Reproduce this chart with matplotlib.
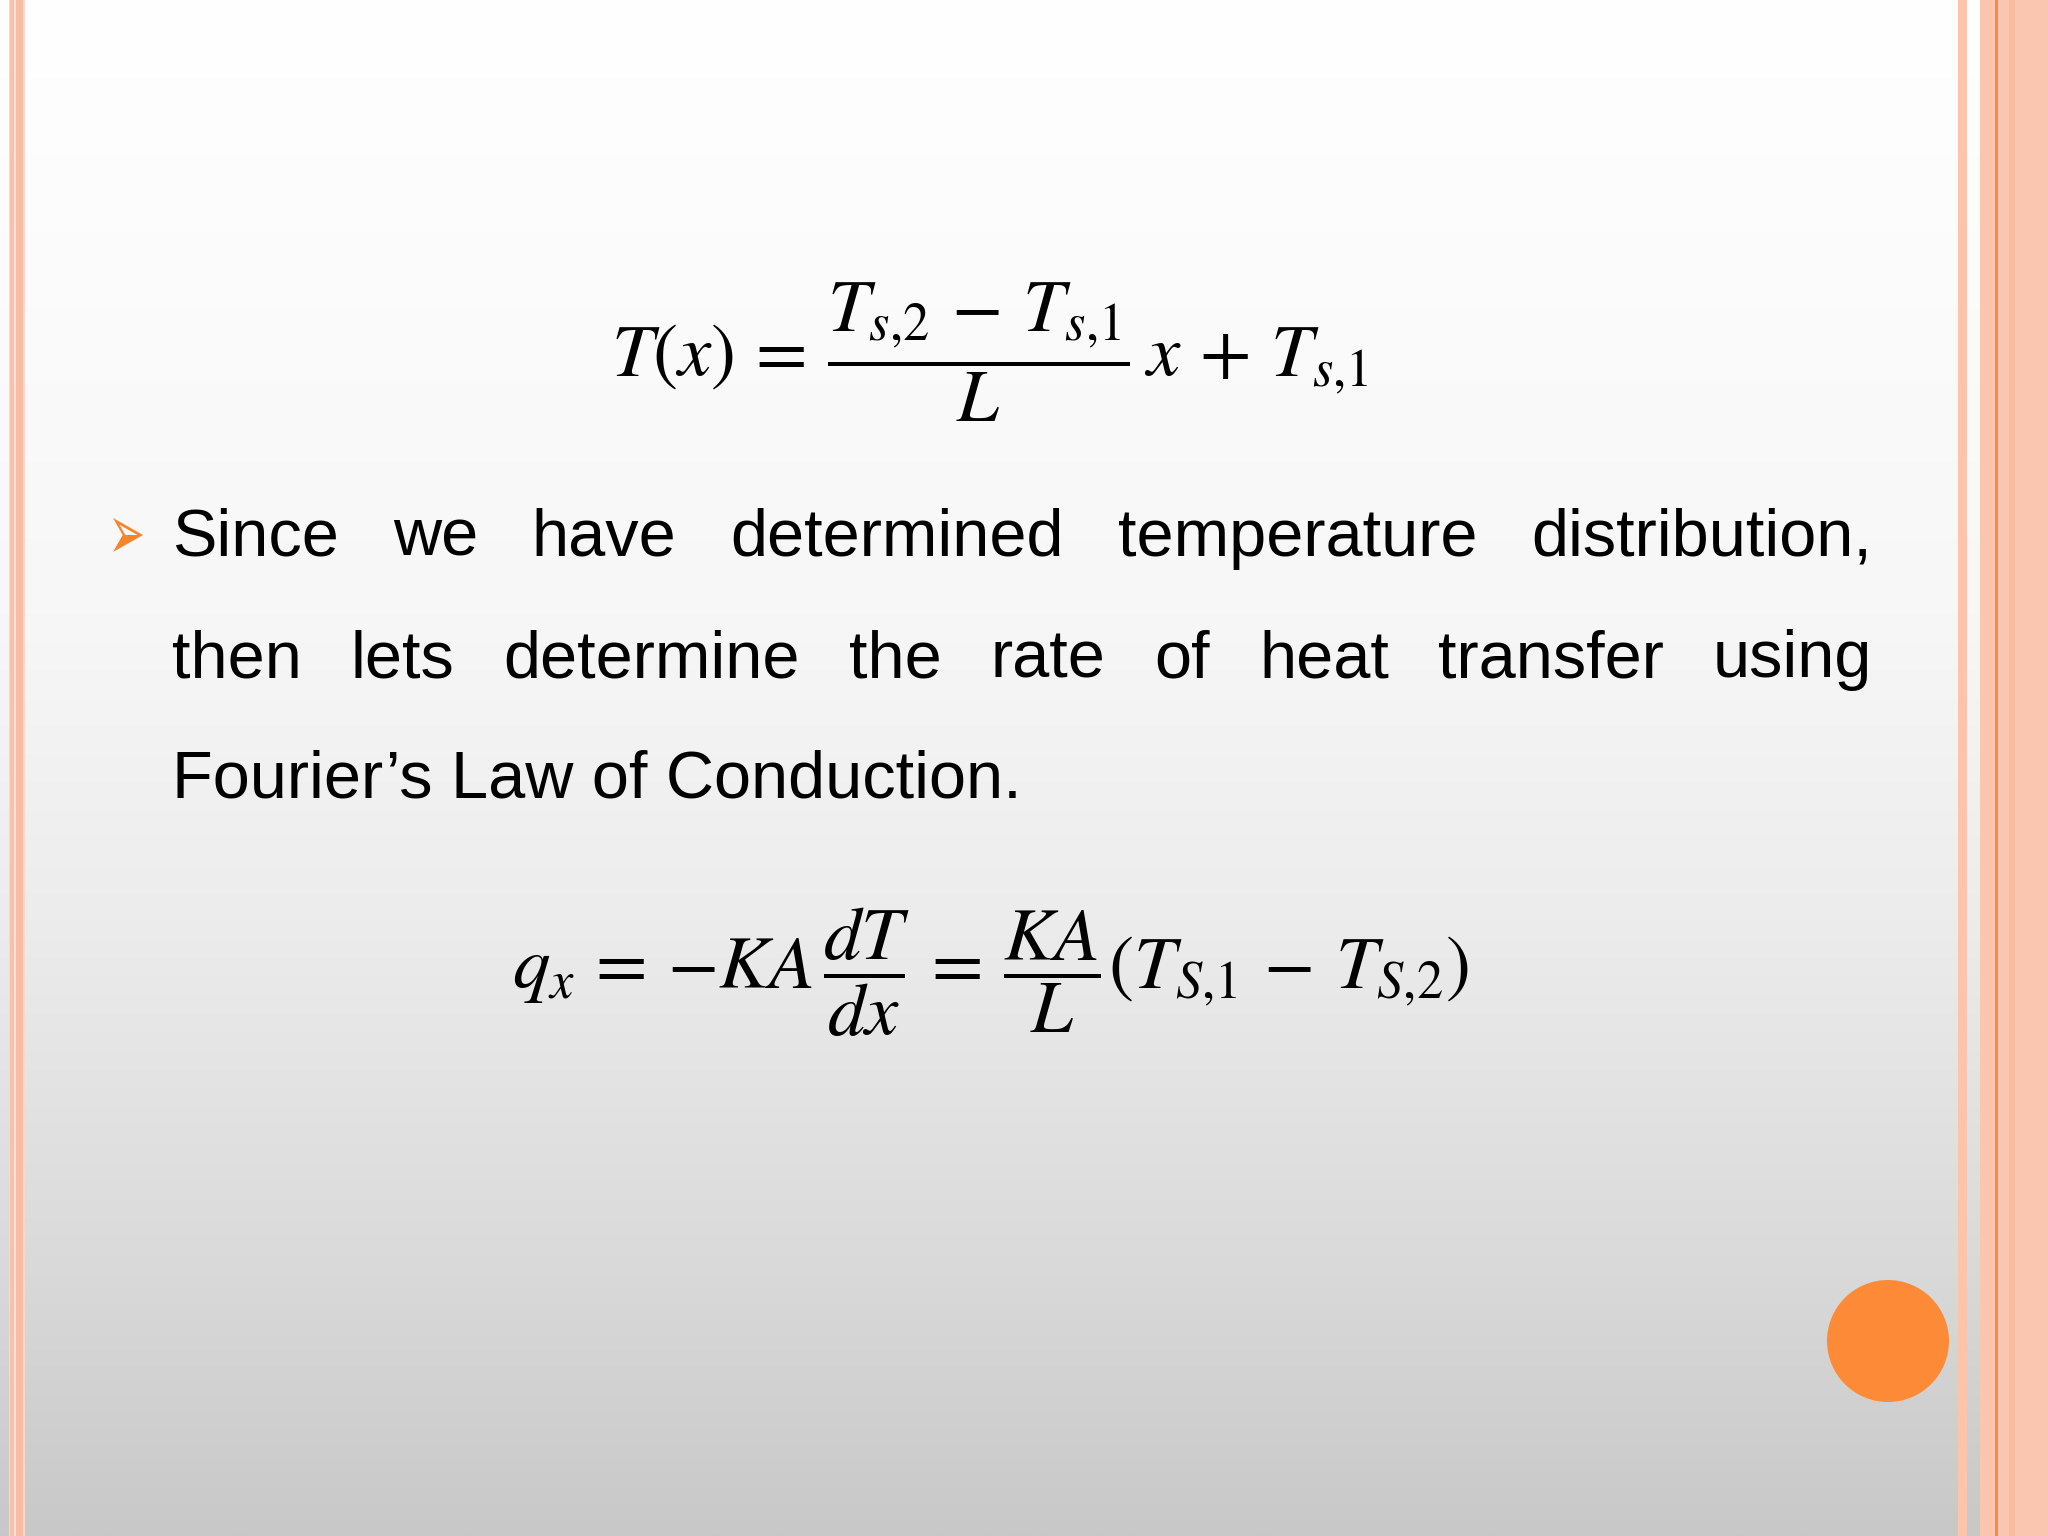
import numpy as np
import matplotlib.pyplot as plt
from matplotlib.patches import Rectangle, Circle, PathPatch
from matplotlib.textpath import TextPath
from matplotlib.font_manager import FontProperties
from matplotlib.transforms import Affine2D

plt.rcParams['mathtext.fontset'] = 'stix'

# slide content
eq_top = r'$T(x)\,=\,\dfrac{T_{s{,}2}\,-\,T_{s{,}1}}{L}\,x\,+\,T_{s{,}1}$'
eq_bottom = (r'$q_x\,=\,{-}KA\,\dfrac{dT}{dx}\,=\,\dfrac{KA}{L}'
             r'\left(T_{S{,}1}\,-\,T_{S{,}2}\right)$')
justified_lines = [
    ["Since", "we", "have", "determined", "temperature", "distribution,"],
    ["then", "lets", "determine", "the", "rate", "of", "heat", "transfer", "using"],
]
last_line = "Fourier\u2019s Law of Conduction."
bullet = "\u27a2"

# background gradient stops (fraction of height, grey level)
grad_pos = [0.0, 0.4, 0.6, 0.83, 1.0]
grad_grey = [255, 247, 236, 217, 200]

W, H = 2048, 1536
fig = plt.figure(figsize=(W / 100, H / 100), dpi=100)
ax = fig.add_axes([0, 0, 1, 1])
ax.set_xlim(0, W)
ax.set_ylim(H, 0)
ax.axis('off')

rows = np.interp(np.linspace(0, 1, 512), grad_pos, grad_grey) / 255
ax.imshow(np.tile(rows[:, None, None], (1, 2, 3)), extent=[0, W, H, 0],
          aspect='auto', zorder=0)

# side stripes
stripes = [
    (9, 1, '#fcd9ca'), (10, 4, '#f9c1a9'), (14, 2, '#fde3d6'), (16, 7, '#f8bea5'),
    (23, 2, '#fcd6c6'),
    (1958, 9, '#fbc4ab'), (1980, 15, '#fbc6ae'), (1995, 3, '#f48a4c'),
    (1998, 50, '#fbc6af'), (2009, 6, '#f9bca1'),
]
for x0, w, c in stripes:
    ax.add_patch(Rectangle((x0, 0), w, H, color=c, lw=0, zorder=1))

ax.add_patch(Circle((1888, 1341), 61, color='#fd8a37', lw=0, zorder=2))

# equations
ax.text(990, 352, eq_top, fontsize=54, ha='center', va='center', zorder=3)
ax.text(991, 972, eq_bottom, fontsize=54, ha='center', va='center', zorder=3)

# bullet glyph, stretched vertically to the slide's taller arrowhead
bp = TextPath((0, 0), bullet, size=40, prop=FontProperties(family='DejaVu Sans'))
bb = bp.get_extents()
sx = 30 / bb.width
sy = 34 / bb.height
tr = (Affine2D().translate(-bb.x0, -bb.y0).scale(sx, -sy)
      .translate(113, 552))
ax.add_patch(PathPatch(tr.transform_path(bp), color='#f5842c', lw=0, zorder=3))

# justified paragraph
fig.canvas.draw()
renderer = fig.canvas.get_renderer()
left, right = 172, 1872
baselines = [556, 677, 798]
font = dict(fontsize=48, family='Liberation Sans', color='black', va='baseline', zorder=3)
for words, yb in zip(justified_lines, baselines):
    items = [ax.text(0, yb, w, ha='left', **font) for w in words]
    widths = [t.get_window_extent(renderer).width for t in items]
    gap = (right - left - sum(widths)) / (len(words) - 1)
    x = left
    for t, wd in zip(items, widths):
        t.set_x(x)
        x += wd + gap
ax.text(left, baselines[2], last_line, ha='left', **font)

fig.savefig('out.png', dpi=100)
